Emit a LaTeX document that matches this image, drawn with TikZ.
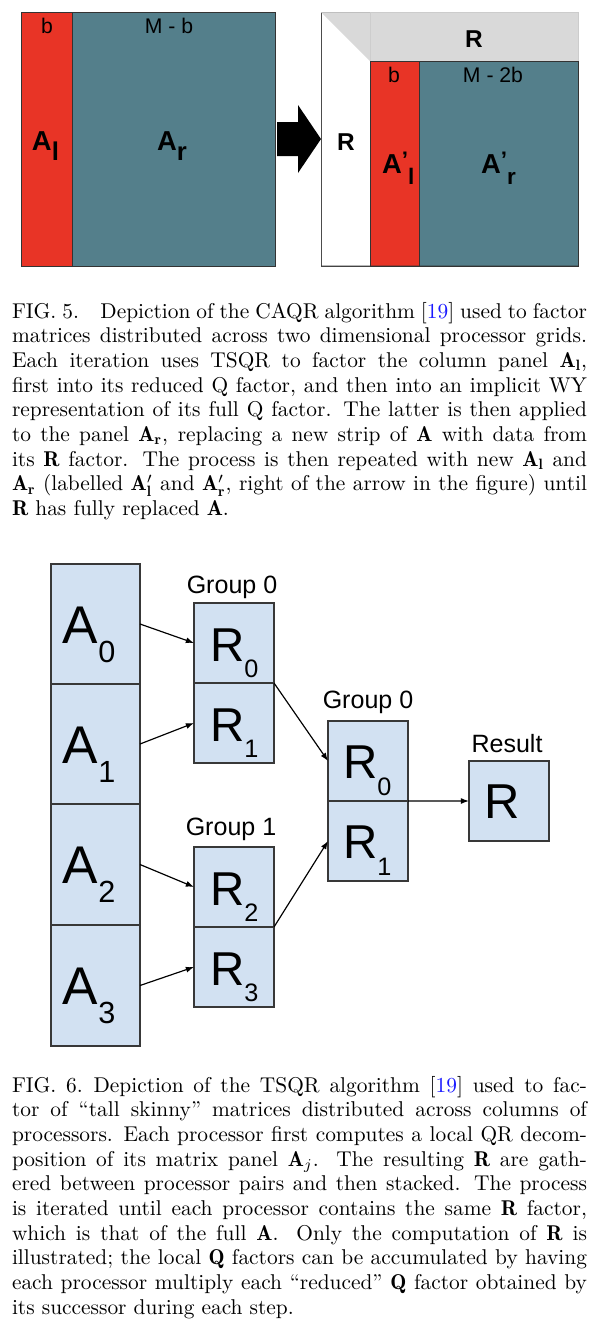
\documentclass[tikz,border=0pt]{standalone}
\usepackage{fontspec}
\newfontfamily\diag{Liberation Sans}
\usetikzlibrary{arrows.meta}
\definecolor{redc}{HTML}{E83426}
\definecolor{tealc}{HTML}{547F8B}
\definecolor{grayc}{HTML}{D9D9D9}
\definecolor{boxfill}{HTML}{D2E1F2}
\definecolor{boxline}{HTML}{383838}
\definecolor{citeblue}{HTML}{1A1AFF}
\newcommand{\fs}[1]{\fontsize{#1}{#1}\selectfont}
\begin{document}
\begin{tikzpicture}[x=0.46729pt,y=-0.46729pt,
  region/.style={draw=black!80,line width=0.45pt,inner sep=0,outer sep=0,anchor=north west},
  lab/.style={inner sep=0,outer sep=0,font=\diag},
  abox/.style={fill=boxfill,inner sep=0,outer sep=0,minimum width=41.59pt,anchor=north west},
  rbox/.style={fill=boxfill,inner sep=0,outer sep=0,minimum width=37.38pt,minimum height=37.38pt},
  border/.style={draw=boxline,line width=0.7pt},
  arr/.style={-{Latex[length=3.8pt,width=2.8pt]},line width=0.55pt,black},
  captext/.style={inner sep=0,outer sep=0,anchor=base west}]
\useasboundingbox (0,0) rectangle (598,1330);
\fill[white] (0,0) rectangle (598,1330);

% ---------------- FIG. 5 ----------------
% left matrix
\node[region,fill=redc,minimum width=23.83pt,minimum height=118.69pt] (Al) at (21,12) {};
\node[region,fill=tealc,minimum width=94.86pt,minimum height=118.69pt] (Ar) at (72,12) {};
% big arrow
\fill[black] (277,122) -- (298,122) -- (298,105) -- (321,139) -- (298,173) -- (298,156) -- (277,156) -- cycle;
% right matrix
\node[region,draw=black!70,fill=white,minimum width=22.90pt,minimum height=118.69pt] (Rc) at (321,12) {};
\node[region,draw=black!20,fill=grayc,minimum width=97.20pt,minimum height=22.90pt] (Rt) at (370,12) {};
\fill[grayc] (Rc.north west) -- (Rt.north west) -- (Rt.south west) -- cycle;
\draw[black!25,line width=0.45pt] (Rc.north west) -- (Rt.north west);
\node[region,fill=redc,minimum width=22.90pt,minimum height=95.79pt] (Al2) at (370,61) {};
\node[region,fill=tealc,minimum width=74.30pt,minimum height=95.79pt] (Ar2) at (419,61) {};
\draw[black!80,line width=0.45pt] (Rc.south west) -- (Ar2.south east);

% labels fig 5
\node[lab,anchor=base] (lb1) at (47,33) {\fs{9.9}b};
\node[lab,anchor=base] (lmb) at (169,33) {\fs{9.9}M - b};
\node[lab,anchor=base west] (lAl) at (32,150) {\fs{12.8}\bfseries A\raisebox{-4.7pt}{\fs{12}l}};
\node[lab,anchor=base west] (lAr) at (157,150) {\fs{12.8}\bfseries A\raisebox{-4.7pt}{\fs{12}r}};
\node[lab,anchor=base] (lRt) at (474,47) {\fs{11.4}\bfseries R};
\node[lab,anchor=base] (lRc) at (346,150) {\fs{11.4}\bfseries R};
\node[lab,anchor=base] (lb2) at (394,82) {\fs{9.9}b};
\node[lab,anchor=base] (lm2b) at (493,82) {\fs{9.9}M - 2b};
\node[lab,anchor=base west] (lAl2) at (382,173) {\fs{12.8}\bfseries A\raisebox{2.6pt}{\fs{10.5}’}\raisebox{-5.6pt}{\fs{10.5}l}};
\node[lab,anchor=base west] (lAr2) at (481,173) {\fs{12.8}\bfseries A\raisebox{2.6pt}{\fs{10.5}’}\raisebox{-5.6pt}{\fs{10.5}r}};

% caption 5
\node[captext] (cap5) at (12,318) {\parbox[t]{268.7pt}{\fontsize{10}{11.54}\selectfont
FIG.~5.\quad Depiction of the CAQR algorithm [{\color{citeblue}19}] used to factor\linebreak
matrices distributed across two dimensional processor grids.\linebreak
Each iteration uses TSQR to factor the column panel $\mathbf{A}_\mathbf{l}$,\linebreak
first into its reduced Q factor, and then into an implicit WY\linebreak
representation of its full Q factor. The latter is then applied\linebreak
to the panel $\mathbf{A}_\mathbf{r}$, replacing a new strip of $\mathbf{A}$ with data from\linebreak
its $\mathbf{R}$ factor. The process is then repeated with new $\mathbf{A}_\mathbf{l}$ and\linebreak
$\mathbf{A}_\mathbf{r}$ (labelled $\mathbf{A}'_\mathbf{l}$ and $\mathbf{A}'_\mathbf{r}$, right of the arrow in the figure) until\linebreak
$\mathbf{R}$ has fully replaced $\mathbf{A}$.}};

% ---------------- FIG. 6 ----------------
\node[abox,minimum height=56.07pt] (A0) at (51,564) {};
\node[abox,minimum height=56.07pt] (A1) at (51,684) {};
\node[abox,minimum height=56.54pt] (A2) at (51,804) {};
\node[abox,minimum height=56.54pt] (A3) at (51,925) {};
\node[rbox] (R0) at (234,643) {};
\node[rbox] (R1) at (234,723) {};
\node[rbox] (R2) at (234,887) {};
\node[rbox] (R3) at (234,967) {};
\node[rbox] (S0) at (368,761) {};
\node[rbox] (S1) at (368,841) {};
\node[rbox] (Res) at (509,801) {};
\foreach \b in {A0,A1,A2,A3,R0,R1,R2,R3,S0,S1,Res}{
  \draw[border] (\b.north west) rectangle (\b.south east);
}

\foreach \i in {0,1,2,3}{
  \node[lab,anchor=base west] (tA\i) at ([shift={(12,79)}]A\i.north west) {\fs{24.8}A\raisebox{-8.9pt}{\fs{14.3}\i}};
}
\foreach \i in {0,1,2,3}{
  \node[lab,anchor=base west] (tR\i) at ([shift={(16,58)}]R\i.north west) {\fs{22.2}R\raisebox{-7.9pt}{\fs{11.8}\i}};
}
\node[lab,anchor=base west] (tS0) at ([shift={(15,57)}]S0.north west) {\fs{22.2}R\raisebox{-8.2pt}{\fs{11.8}0}};
\node[lab,anchor=base west] (tS1) at ([shift={(15,57)}]S1.north west) {\fs{22.2}R\raisebox{-8.2pt}{\fs{11.8}1}};
\node[lab,anchor=base west] (tRes) at ([shift={(15,57)}]Res.north west) {\fs{22.9}R};

\node[lab,anchor=base] (g0) at (232,593) {\fs{11.7}Group 0};
\node[lab,anchor=base] (g1) at (231,835) {\fs{11.7}Group 1};
\node[lab,anchor=base] (g2) at (368,708) {\fs{11.7}Group 0};
\node[lab,anchor=base] (gr) at (507,752) {\fs{11.7}Result};

\draw[arr] (A0.east) -- (R0.west);
\draw[arr] (A1.east) -- (R1.west);
\draw[arr] (A2.east) -- (R2.west);
\draw[arr] (A3.east) -- (R3.west);
\draw[arr] (R0.south east) -- (S0.west);
\draw[arr] (R2.south east) -- (S1.west);
\draw[arr] (S0.south east) -- (Res.west);

% caption 6
\node[captext] (cap6) at (12,1092) {\parbox[t]{268.7pt}{\fontsize{10}{11.54}\selectfont
FIG.~6.\enskip Depiction of the TSQR algorithm [{\color{citeblue}19}] used to fac-\linebreak
tor of ``tall skinny'' matrices distributed across columns of\linebreak
processors. Each processor first computes a local QR decom-\linebreak
position of its matrix panel $\mathbf{A}_j$. The resulting $\mathbf{R}$ are gath-\linebreak
ered between processor pairs and then stacked. The process\linebreak
is iterated until each processor contains the same $\mathbf{R}$ factor,\linebreak
which is that of the full $\mathbf{A}$. Only the computation of $\mathbf{R}$ is\linebreak
illustrated; the local $\mathbf{Q}$ factors can be accumulated by having\linebreak
each processor multiply each ``reduced'' $\mathbf{Q}$ factor obtained by\linebreak
its successor during each step.}};
\end{tikzpicture}
\end{document}
